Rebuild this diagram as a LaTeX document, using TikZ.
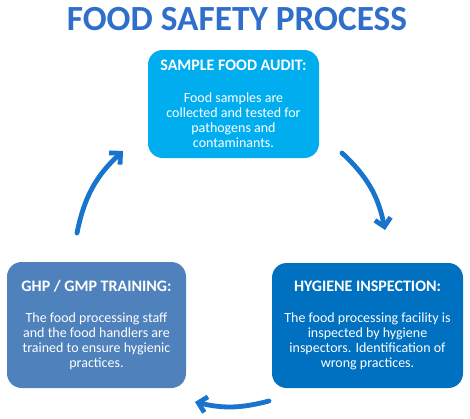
\documentclass[tikz,border=0pt]{standalone}
\usepackage{fontspec}
\setmainfont{Carlito}
\usepackage{xcolor}
\usepackage{tikz}
\usetikzlibrary{positioning,calc,arrows.meta}

\definecolor{auditcyan}{HTML}{00AEEF}
\definecolor{trainblue}{HTML}{4F81BD}
\definecolor{inspblue}{HTML}{0070C0}
\definecolor{arrowblue}{HTML}{1874CD}
\definecolor{titleblue}{HTML}{2F6FCB}

\begin{document}
\begin{tikzpicture}[
    x=0.75pt, y=-0.75pt,
    every node/.style={font=\fontsize{10.5}{11.25}\selectfont},
    stage/.style={rounded corners=11pt, text=white, align=center, inner sep=0pt},
    cycle/.style={-{Straight Barb[length=6pt,width=12pt]}, arrowblue,
                  line width=3.6pt, line cap=round, bend left=18},
]
\useasboundingbox (0,0) rectangle (470,418);

% =====================================================================
% Title
% =====================================================================
\node[font=\fontsize{26.5}{28}\selectfont\bfseries, text=titleblue, anchor=base]
    (title) at (237,30) {FOOD SAFETY PROCESS};

% =====================================================================
% The three stages
% =====================================================================
\node[stage, fill=auditcyan, minimum width=171*0.75pt, minimum height=108*0.75pt]
    (audit) at (233.5,104) {{\fontsize{12}{13}\selectfont\bfseries SAMPLE FOOD AUDIT:}\\[12.5pt]
    Food samples are\\ collected and tested for\\ pathogens and\\ contaminants.};

\node[stage, fill=trainblue, minimum width=179*0.75pt, minimum height=126*0.75pt]
    (train) at (96.5,325) {{\fontsize{12}{13}\selectfont\bfseries GHP / GMP TRAINING:}\\[12.5pt]
    The food processing staff\\ and the food handlers are\\ trained to ensure hygienic\\ practices.};

\node[stage, fill=inspblue, minimum width=191*0.75pt, minimum height=125*0.75pt]
    (insp) at (367.5,325.5) {{\fontsize{12}{13}\selectfont\bfseries HYGIENE INSPECTION:}\\[12.5pt]
    The food processing facility is\\ inspected by hygiene\\ inspectors. Identification of\\ wrong practices.};

% =====================================================================
% Cycle arrows (ends on a circle round the middle)
% =====================================================================
\coordinate (auditout) at (342,153);
\coordinate (inspin)   at (385,230);
\coordinate (inspout)  at (269,401);
\coordinate (trainin)  at (195,402);
\coordinate (trainout) at (77,233);
\coordinate (auditin)  at (123,151);

\draw[cycle] (auditout) to (inspin);
\draw[cycle, bend left=14] (inspout) to (trainin);
\draw[cycle] (trainout) to (auditin);

\end{tikzpicture}
\end{document}
